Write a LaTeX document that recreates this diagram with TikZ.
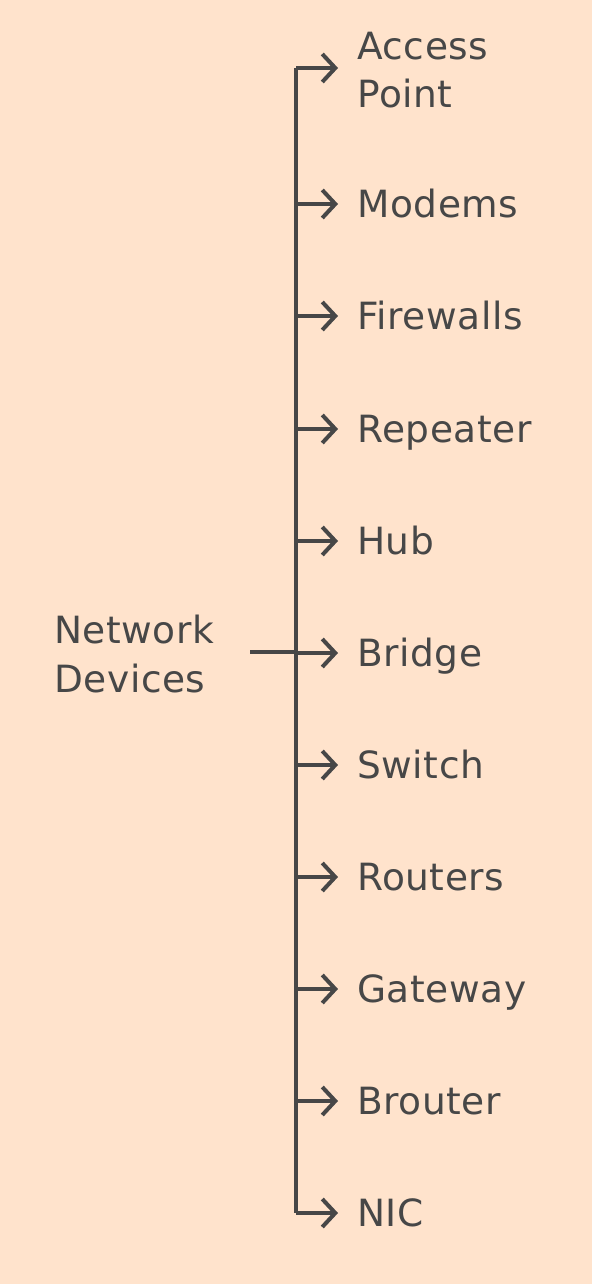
\documentclass[tikz,border=0pt]{standalone}
\usepackage{fontspec}
\setmainfont[LetterSpace=1.5]{DejaVu Sans}
\usetikzlibrary{arrows.meta}
\definecolor{bgc}{HTML}{FFE3CC}
\definecolor{ink}{HTML}{474747}
\begin{document}
\begin{tikzpicture}[x=1pt,y=-1pt,
  link/.style={draw=ink,line width=4pt,-{Straight Barb[length=13pt,width=28pt,line width=4pt]}},
  leaf/.style={anchor=west,inner sep=0pt,text=ink,font=\fontsize{37.5}{49}\selectfont,text height=27pt,text depth=0pt},
  multi/.style={anchor=west,inner sep=0pt,text=ink,font=\fontsize{37.5}{48.5}\selectfont,align=left}]
\fill[bgc] (0,0) rectangle (592,1284);
\useasboundingbox (0,0) rectangle (592,1284);
\node[multi] (root) at (54,654) {Network\\Devices};
\coordinate (rs) at (250,652);
\coordinate (top) at (296,68);
\coordinate (bot) at (296,1213);
\draw[ink,line width=4pt] (top) -- (bot);
\coordinate (ja) at (296,68);
\node[multi] (a) at (357,70) {Access\\Point};
\draw[link] (ja) -- (338,68);
\foreach \n/\t/\y in {b/Modems/204,c/Firewalls/316,d/Repeater/429,e/Hub/541,f/Bridge/653,g/Switch/765,h/Routers/877,i/Gateway/989,j/Brouter/1101,k/NIC/1213}{
  \coordinate (j\n) at (296,\y);
  \node[leaf] (\n) at (357,\y) {\t};
  \draw[link] (j\n) -- (338,\y) coordinate (t\n);
}
\draw[draw=ink,line width=4pt] (rs) -- (296,652);
\end{tikzpicture}
\end{document}
